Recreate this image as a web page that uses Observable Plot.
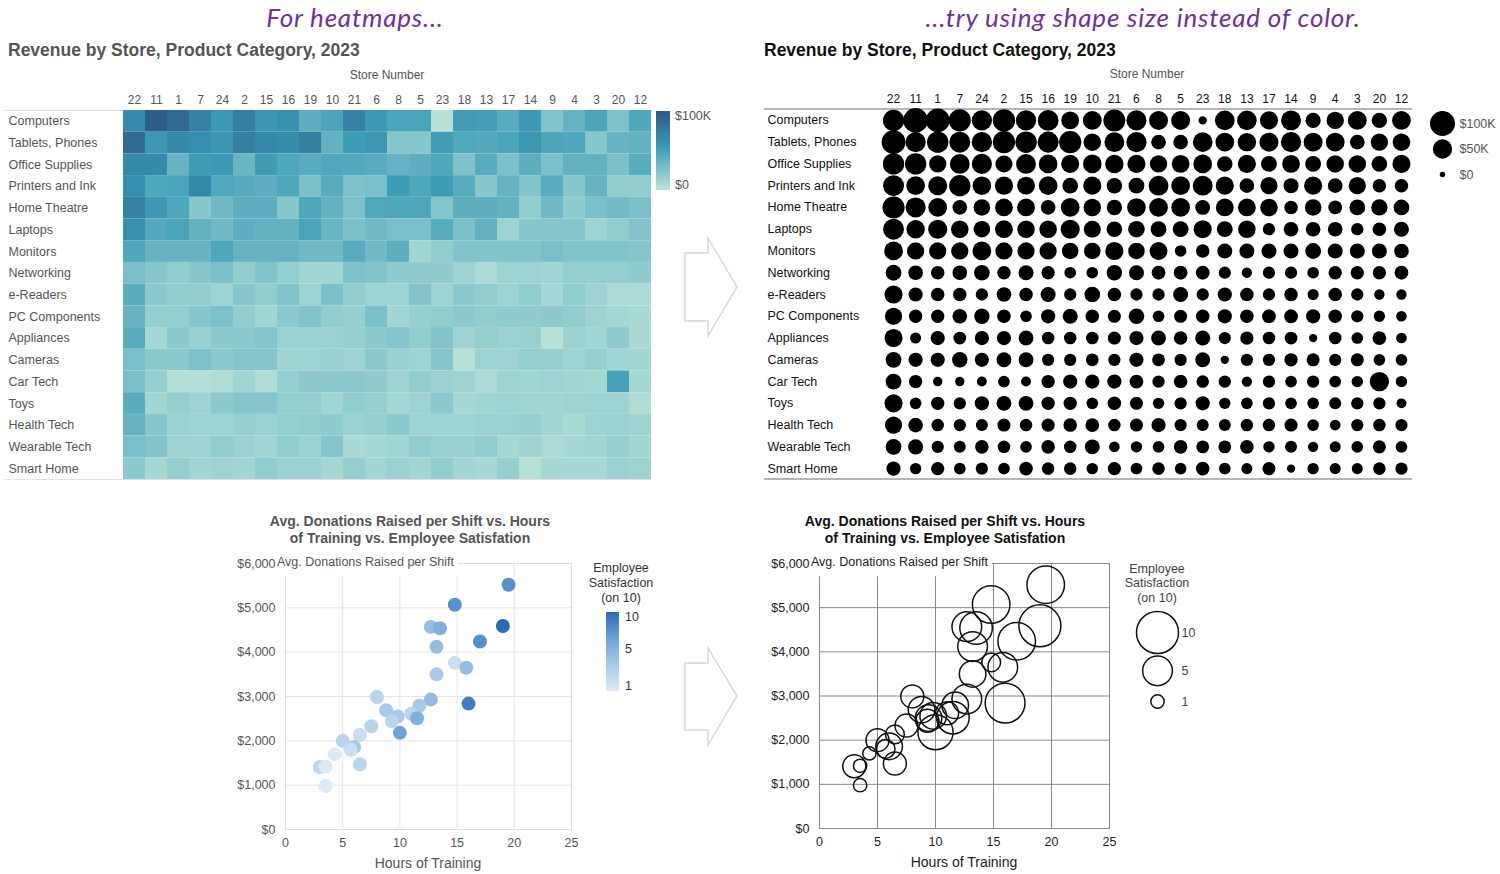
<!DOCTYPE html>
<html><head><meta charset="utf-8">
<script src="https://cdn.jsdelivr.net/npm/d3@7"></script>
<script src="https://cdn.jsdelivr.net/npm/@observablehq/plot@0.6"></script>
<style>
html,body{margin:0;padding:0;background:#fff;}
#page{position:relative;width:1500px;height:874px;overflow:hidden;font-family:"Liberation Sans",Arial,sans-serif;}
.abs{position:absolute;white-space:nowrap;}
.abs svg{display:block;}
</style></head><body>
<div id="page"></div>
<script>
// ---------- DATA ----------
const stores = ["22","11","1","7","24","2","15","16","19","10","21","6","8","5","23","18","13","17","14","9","4","3","20","12"];
const categories = ["Computers","Tablets, Phones","Office Supplies","Printers and Ink","Home Theatre","Laptops","Monitors","Networking","e-Readers","PC Components","Appliances","Cameras","Car Tech","Toys","Health Tech","Wearable Tech","Smart Home"];
// revenue in $K, per category, in store order above
const revComputers   = [65,97,88,72,57,74,58,62,40,47,71,56,48,48,2,53,52,42,55,25,37,47,26,46];
const revTablets     = [88,57,66,63,58,73,67,64,73,38,54,57,22,22,53,45,44,48,57,47,46,22,36,38];
const revOffice      = [66,66,36,54,56,35,54,46,42,45,44,42,37,40,46,26,42,28,40,28,38,38,27,42];
const revPrinters    = [63,46,48,66,45,43,40,46,27,42,26,28,54,46,54,42,22,36,24,42,22,36,17,17];
const revHomeTheatre = [72,56,46,22,32,40,40,22,46,38,26,45,46,46,23,40,40,38,17,32,18,28,31,27];
const revLaptops     = [62,44,48,38,32,40,38,38,48,35,27,32,28,28,42,28,38,12,22,22,22,12,17,24];
const revMonitors    = [46,36,36,36,46,36,36,36,32,32,42,32,40,10,17,24,24,24,24,28,24,24,24,22];
const revNetworking  = [28,22,17,22,27,17,24,16,10,10,26,24,18,18,18,12,6,12,12,10,16,16,16,18];
const revEReaders    = [42,20,17,17,12,22,17,24,12,27,17,12,12,24,12,20,17,12,17,8,17,12,6,6];
const revPCComp      = [36,16,16,22,26,17,10,20,24,17,15,27,10,15,17,20,17,18,18,20,17,12,9,7];
const revAppliances  = [42,8,20,14,20,20,23,13,13,13,15,20,23,17,24,12,16,13,14,2,13,10,18,7];
const revCameras     = [28,20,20,26,20,23,23,12,12,14,12,20,14,12,23,2,12,12,16,15,12,15,10,10];
const revCarTech     = [28,16,4,4,5,10,5,16,20,20,20,18,12,17,13,12,6,12,10,12,10,9,50,9];
const revToys        = [42,10,16,12,20,23,23,16,16,10,17,15,9,12,20,9,10,12,10,10,11,12,12,5];
const revHealthTech  = [36,22,13,12,11,15,13,16,17,18,13,15,20,12,11,11,13,13,15,10,7,12,13,12];
const revWearable    = [28,24,12,11,17,13,10,17,13,23,7,9,10,17,14,14,17,9,11,6,8,10,15,10];
const revSmartHome   = [20,9,16,10,12,10,17,13,13,9,16,10,13,10,17,10,8,15,2,9,8,8,13,12];
const revenueRows = [revComputers,revTablets,revOffice,revPrinters,revHomeTheatre,revLaptops,revMonitors,revNetworking,revEReaders,revPCComp,revAppliances,revCameras,revCarTech,revToys,revHealthTech,revWearable,revSmartHome];

const revLegendValues = [100000, 50000, 0];
const revLegendLabels = ["$100K", "$50K", "$0"];

// scatter: hours of training, avg donations per shift, satisfaction (on 10)
const hours        = [19.5,14.8,12.7,13.5,19.0,17.0,13.2,14.8,15.8,13.2,8.0,12.7,16.0,11.7,8.8,11.0,9.8,9.4,9.3,11.5,10.0,7.5,6.5,5.0,6.0,5.7,4.3,3.0,3.5,6.5,3.5];
const donations    = [5520,5070,4570,4540,4590,4240,4120,3760,3650,3500,2990,2930,2840,2790,2690,2610,2550,2500,2440,2510,2180,2330,2130,2000,1860,1800,1700,1410,1420,1470,980];
const satisfaction = [8,8,5,6,10,8,5,2,5,4,3,5,9,4,4,3,4,4,3,6,7,3,2,3,4,2,1,3,1,3,1];
const xTicks = [0,5,10,15,20,25];
const yTicks = [0,1000,2000,3000,4000,5000,6000];
const satLegendValues = [10,5,1];

// ---------- STYLES ----------
const blueTeal = ["#bce4d8","#aedcd5","#a1d5d2","#95cecf","#89c8cc","#7ec1ca","#72bac6","#66b2c2","#59acbe","#4ba5ba","#419eb6","#3b96b2","#358ead","#3586a7","#347ea1","#32779b","#316f96","#2f6790","#2d608a","#2c5985"];
const blues = ["#dce9f6","#a9c9e8","#6fa3d6","#2a6bb3"];
const FONT = "'Liberation Sans', Arial, sans-serif";
const HAND = "Lato, 'Open Sans', sans-serif";

const revTable = [];
categories.forEach((c, i) => stores.forEach((s, j) => revTable.push({category: c, store: s, revenue: revenueRows[i][j] * 1000})));
const points = hours.map((h, i) => ({hours: h, donations: donations[i], sat: satisfaction[i]}));

const page = document.getElementById("page");
function place(node, x, y) {
  const d = document.createElement("div");
  d.className = "abs"; d.style.left = x + "px"; d.style.top = y + "px";
  d.appendChild(node); page.appendChild(d); return d;
}
function text(str, x, y, o = {}) {
  const d = document.createElement("div");
  d.className = "abs";
  d.textContent = str;
  d.style.left = x + "px"; d.style.top = y + "px";
  d.style.fontFamily = o.family || FONT;
  d.style.fontSize = (o.size || 12) + "px";
  d.style.fontWeight = o.weight || "normal";
  d.style.fontStyle = o.style || "normal";
  d.style.color = o.color || "#555";
  d.style.lineHeight = o.lh || "1";
  if (o.ls) d.style.letterSpacing = o.ls;
  const tx = o.anchor === "middle" ? "-50%" : o.anchor === "end" ? "-100%" : "0";
  d.style.transform = `translate(${tx},-50%)`;
  if (o.bg) { d.style.background = o.bg; d.style.padding = o.pad || "0"; }
  page.appendChild(d); return d;
}
function box(x, y, w, h, css) {
  const d = document.createElement("div");
  d.className = "abs"; d.style.left = x + "px"; d.style.top = y + "px";
  d.style.width = w + "px"; d.style.height = h + "px";
  Object.assign(d.style, css); page.appendChild(d); return d;
}

// ---------- Headline texts ----------
text("For heatmaps...", 355, 17, {anchor: "middle", size: 26, style: "italic", family: HAND, color: "#7030a0", ls: "0.8px", lh: "1"});
text("...try using shape size instead of color.", 1143, 17, {anchor: "middle", size: 26, style: "italic", family: HAND, color: "#7030a0", ls: "0.8px", lh: "1"});

// ---------- Heatmap (top-left) ----------
text("Revenue by Store, Product Category, 2023", 8, 51, {size: 17.5, weight: "bold", color: "#555"});
text("Store Number", 387, 75, {anchor: "middle", size: 12, color: "#555"});
box(5, 110, 646, 1, {background: "#e2e2e2"});
box(5, 479, 646, 1, {background: "#e2e2e2"});
const heat = Plot.plot({
  width: 700, height: 425, marginLeft: 123, marginRight: 49, marginTop: 48, marginBottom: 8,
  style: {fontFamily: FONT, fontSize: "12px", color: "#555", background: "transparent"},
  x: {type: "band", domain: stores, padding: 0, round: false, axis: null},
  y: {type: "band", domain: categories, padding: 0, round: false, axis: null},
  color: {type: "linear", domain: [0, 100000], interpolate: d3.piecewise(d3.interpolateRgb, blueTeal)},
  marks: [
    Plot.cell(revTable, {x: "store", y: "category", fill: "revenue"}),
    Plot.axisX({anchor: "top", tickSize: 0, tickPadding: 7, label: null, fontSize: 12}),
    Plot.text(categories, {y: d => d, frameAnchor: "left", textAnchor: "start", dx: -115, fill: "#555", fontSize: 12.5})
  ]
});
place(heat, 0, 62);
box(656, 111, 14, 79, {background: `linear-gradient(to top, ${blueTeal.join(",")})`});
text("$100K", 675, 116, {size: 12.5, color: "#555"});
text("$0", 675, 185, {size: 12.5, color: "#555"});

// ---------- Dot matrix (top-right) ----------
text("Revenue by Store, Product Category, 2023", 764, 51, {size: 17.5, weight: "bold", color: "#111"});
text("Store Number", 1147, 74, {anchor: "middle", size: 12, color: "#555"});
box(764, 108, 648, 2, {background: "#b5b5b5"});
box(764, 478, 648, 2, {background: "#b5b5b5"});
const rRev = {type: "pow", exponent: 0.5, domain: [-8000, 100000], range: [0, 12.5]};
const dots = Plot.plot({
  width: 680, height: 426, marginLeft: 142, marginRight: 8, marginTop: 48, marginBottom: 8,
  style: {fontFamily: FONT, fontSize: "12px", color: "#111", background: "transparent"},
  x: {type: "band", domain: stores, padding: 0, round: false, axis: null},
  y: {type: "band", domain: categories, padding: 0, round: false, axis: null},
  r: rRev,
  marks: [
    Plot.dot(revTable, {x: "store", y: "category", r: "revenue", fill: "#000", sort: null}),
    Plot.axisX({anchor: "top", tickSize: 0, tickPadding: 7, label: null, fontSize: 12}),
    Plot.text(categories, {y: d => d, frameAnchor: "left", textAnchor: "start", dx: -115, fill: "#111", fontSize: 12.5})
  ]
});
place(dots, 740, 61);
const revLeg = Plot.plot({
  width: 75, height: 95, marginLeft: 17, marginRight: 0, marginTop: 0, marginBottom: 0,
  style: {fontFamily: FONT, fontSize: "12.5px", background: "transparent"},
  x: {axis: null}, y: {domain: [100000, 0], range: [23, 74], axis: null},
  r: rRev,
  marks: [
    Plot.dot(revLegendValues, {y: d => d, r: d => d, fill: "#000", frameAnchor: "left"}),
    Plot.text(revLegendValues, {y: d => d, text: (d, i) => revLegendLabels[i], frameAnchor: "left", textAnchor: "start", dx: 17, fill: "#555", fontSize: 12.5})
  ]
});
place(revLeg, 1425, 100);

// ---------- Arrows ----------
const svgNS = "http://www.w3.org/2000/svg";
const arrows = document.createElementNS(svgNS, "svg");
arrows.setAttribute("width", 70); arrows.setAttribute("height", 530);
arrows.innerHTML = `<polygon points="5,23 28,23 28,8 57,57 28,106 28,91 5,91" fill="#fff" stroke="#d9d9d9" stroke-width="1.5"/>
<polygon points="5,433 28,433 28,418 57,466 28,515 28,500 5,500" fill="#fff" stroke="#d9d9d9" stroke-width="1.5"/>`;
place(arrows, 680, 230);

// ---------- Scatter with colour (bottom-left) ----------
text("Avg. Donations Raised per Shift vs. Hours", 410, 521, {anchor: "middle", size: 14, weight: "bold", color: "#555"});
text("of Training vs. Employee Satisfation", 410, 538, {anchor: "middle", size: 14, weight: "bold", color: "#555"});
const money = d => "$" + d3.format(",")(d);
const scat1 = Plot.plot({
  width: 390, height: 320, marginLeft: 85, marginRight: 19, marginTop: 10, marginBottom: 44,
  style: {fontFamily: FONT, fontSize: "12.5px", color: "#555", background: "transparent"},
  x: {domain: [0, 25], axis: null},
  y: {domain: [0, 6000], axis: null},
  color: {type: "linear", domain: [1, 10], interpolate: d3.piecewise(d3.interpolateRgb, blues)},
  marks: [
    Plot.gridX(xTicks, {stroke: "#e6e6e6", strokeOpacity: 1}),
    Plot.gridY(yTicks, {stroke: "#e6e6e6", strokeOpacity: 1}),
    Plot.frame({stroke: "#dedede"}),
    Plot.axisX(xTicks, {anchor: "bottom", tickSize: 0, tickPadding: 9, label: null}),
    Plot.axisY(yTicks, {anchor: "left", tickSize: 0, tickPadding: 10, label: null, tickFormat: money}),
    Plot.dot(points, {x: "hours", y: "donations", fill: "sat", r: 7})
  ]
});
place(scat1, 200, 553);
text("Avg. Donations Raised per Shift", 276, 564, {size: 12.5, color: "#555", bg: "#fff", pad: "4px 4px 7px 1px"});
text("Hours of Training", 428, 863, {anchor: "middle", size: 14, color: "#555"});
text("Employee", 621, 568, {anchor: "middle", size: 12.5, color: "#333"});
text("Satisfaction", 621, 583, {anchor: "middle", size: 12.5, color: "#333"});
text("(on 10)", 621, 598, {anchor: "middle", size: 12.5, color: "#333"});
box(606, 612, 13, 79, {background: `linear-gradient(to top, ${blues.join(",")})`});
text("10", 625, 617, {size: 12.5, color: "#333"});
text("5", 625, 649, {size: 12.5, color: "#333"});
text("1", 625, 686, {size: 12.5, color: "#333"});

// ---------- Scatter with size (bottom-right) ----------
text("Avg. Donations Raised per Shift vs. Hours", 945, 521, {anchor: "middle", size: 14, weight: "bold", color: "#111"});
text("of Training vs. Employee Satisfation", 945, 538, {anchor: "middle", size: 14, weight: "bold", color: "#111"});
const rSat = {type: "sqrt", domain: [0, 10], range: [0, 21]};
const scat2 = Plot.plot({
  width: 390, height: 320, marginLeft: 84, marginRight: 16, marginTop: 10, marginBottom: 45,
  style: {fontFamily: FONT, fontSize: "12.5px", color: "#222", background: "transparent"},
  x: {domain: [0, 25], axis: null},
  y: {domain: [0, 6000], axis: null},
  r: rSat,
  marks: [
    Plot.gridX(xTicks, {stroke: "#8a8a8a", strokeOpacity: 1}),
    Plot.gridY(yTicks, {stroke: "#8a8a8a", strokeOpacity: 1}),
    Plot.frame({stroke: "#8a8a8a"}),
    Plot.axisX(xTicks, {anchor: "bottom", tickSize: 0, tickPadding: 9, label: null}),
    Plot.axisY(yTicks, {anchor: "left", tickSize: 0, tickPadding: 10, label: null, tickFormat: money}),
    Plot.dot(points, {x: "hours", y: "donations", r: "sat", stroke: "#111", strokeWidth: 1.5, fill: "none"})
  ]
});
place(scat2, 735, 553);
text("Avg. Donations Raised per Shift", 810, 564, {size: 12.5, color: "#222", bg: "#fff", pad: "4px 4px 7px 1px"});
text("Hours of Training", 964, 862, {anchor: "middle", size: 14, color: "#222"});
text("Employee", 1157, 569, {anchor: "middle", size: 12.5, color: "#444"});
text("Satisfaction", 1157, 583, {anchor: "middle", size: 12.5, color: "#444"});
text("(on 10)", 1157, 598, {anchor: "middle", size: 12.5, color: "#444"});
const satLeg = Plot.plot({
  width: 90, height: 115, marginLeft: 37, marginRight: 0, marginTop: 0, marginBottom: 0,
  style: {fontFamily: FONT, fontSize: "12.5px", background: "transparent"},
  x: {axis: null}, y: {domain: [10, 1], range: [27, 96], axis: null},
  r: rSat,
  marks: [
    Plot.dot(satLegendValues, {y: d => d, r: d => d, stroke: "#111", strokeWidth: 1.5, fill: "none", frameAnchor: "left"}),
    Plot.text(satLegendValues, {y: d => d, text: d => String(d), frameAnchor: "left", textAnchor: "start", dx: 24, fill: "#444", fontSize: 12.5})
  ]
});
place(satLeg, 1120, 605);
</script>
</body></html>
